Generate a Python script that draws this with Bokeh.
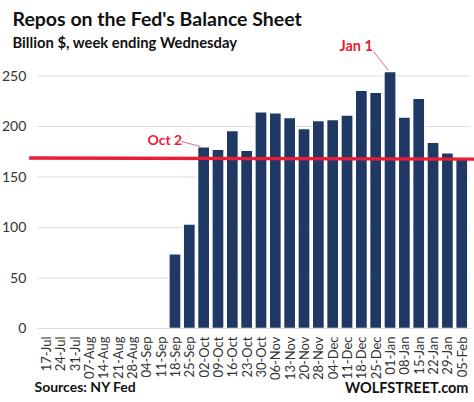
from math import pi
from bokeh.plotting import figure
from bokeh.models import ColumnDataSource, Range1d, FixedTicker, Label
from bokeh.embed import file_html
from bokeh.resources import INLINE

weeks = ["17-Jul","24-Jul","31-Jul","07-Aug","14-Aug","21-Aug","28-Aug","04-Sep","11-Sep","18-Sep",
         "25-Sep","02-Oct","09-Oct","16-Oct","23-Oct","30-Oct","06-Nov","13-Nov","20-Nov","28-Nov",
         "04-Dec","11-Dec","18-Dec","25-Dec","01-Jan","08-Jan","15-Jan","22-Jan","29-Jan","05-Feb"]
repos = [0,0,0,0,0,0,0,0,0,74,
         103.5,180,177.5,196,176.5,214.5,213.5,209,198,206,
         207,211.5,236,234,254.5,209.5,228,184.5,174,168]
y_ticks = [0,50,100,150,200,250]
level_x = [-1.17, 29.89]
level_y = [168.8, 167.6]
jan_leader_x = [22.85, 23.89]
jan_leader_y = [274.3, 255.4]
oct_leader_x = [9.46, 10.78]
oct_leader_y = [185.1, 180.2]

FONT = "Lato"
RED = "#ea1c36"
LEADER = "#d9707f"
GRID = "#dcdcdc"
PLOT_X = (-0.6, 29.6)

# The frame fills the whole figure so that no text or line outside the axes is clipped.
p = figure(width=474, height=402, output_backend="svg", toolbar_location=None,
           x_range=Range1d(-3.166, 29.89), y_range=Range1d(-73.27, 324.75),
           min_border_left=0, min_border_right=0, min_border_top=0, min_border_bottom=0,
           outline_line_color=None, background_fill_color="white", border_fill_color="white")

positions = list(range(len(weeks)))
p.xgrid.visible = False
p.ygrid.visible = False
p.segment(x0=[PLOT_X[0]]*len(y_ticks), x1=[PLOT_X[1]]*len(y_ticks), y0=y_ticks, y1=y_ticks,
          line_color=GRID, line_width=1)

src = ColumnDataSource(dict(x=positions, repos=repos))
p.vbar(x="x", top="repos", width=0.85, source=src, fill_color="#1f3864",
       line_color="white", line_width=1.5)

p.line(level_x, level_y, line_color=RED, line_width=3.3)
p.line(jan_leader_x, jan_leader_y, line_color=LEADER, line_width=1)
p.line(oct_leader_x, oct_leader_y, line_color=LEADER, line_width=1)

p.yaxis.fixed_location = PLOT_X[0]
p.yaxis.ticker = FixedTicker(ticks=y_ticks)
p.yaxis.axis_line_color = None
p.yaxis.major_tick_line_color = None
p.yaxis.minor_tick_line_color = None
p.yaxis.major_tick_out = 0
p.yaxis.major_tick_in = 0
p.yaxis.minor_tick_out = 0
p.yaxis.major_label_standoff = 11
p.yaxis.major_label_text_font = FONT
p.yaxis.major_label_text_font_size = "14px"
p.yaxis.major_label_text_color = "#333333"

p.xaxis.fixed_location = 0
p.xaxis.bounds = PLOT_X
p.xaxis.ticker = FixedTicker(ticks=positions)
p.xaxis.major_label_overrides = dict(zip(positions, weeks))
p.xaxis.axis_line_color = GRID
p.xaxis.major_tick_line_color = None
p.xaxis.minor_tick_line_color = None
p.xaxis.major_tick_out = 0
p.xaxis.major_tick_in = 0
p.xaxis.minor_tick_out = 0
p.xaxis.major_label_orientation = pi/2
p.xaxis.major_label_standoff = 8
p.xaxis.major_label_text_font = FONT
p.xaxis.major_label_text_font_size = "13px"
p.xaxis.major_label_text_color = "#333333"

def text(s, x, y, size, color="#111111", align="left"):
    p.add_layout(Label(x=x, y=y, x_units="canvas", y_units="canvas", text=s,
                       text_font=FONT, text_font_style="bold", text_font_size=size,
                       text_color=color, text_align=align, text_baseline="middle"))

text("Repos on the Fed's Balance Sheet", 12, 18, "19.5px")
text("Billion $, week ending Wednesday", 12, 41, "14.8px")
text("Jan 1", 339, 45, "14.5px", RED)
text("Oct 2", 147, 139, "14px", RED)
text("Sources: NY Fed", 34, 386, "14px")
text("WOLFSTREET.com", 468, 387, "14.5px", align="right")

open("out.html", "w").write(file_html(p, INLINE))
